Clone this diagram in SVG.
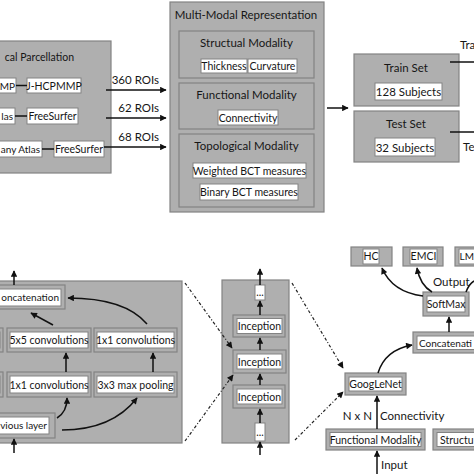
<svg xmlns="http://www.w3.org/2000/svg" width="474" height="474" viewBox="0 0 474 474">
<defs>
<marker id="ah" viewBox="0 0 10 10" refX="9" refY="5" markerWidth="8" markerHeight="6.5" markerUnits="userSpaceOnUse" orient="auto">
<path d="M0,0 L10,5 L0,10 z" fill="#111"/>
</marker>
<style>
.g{fill:#afafaf;stroke:#838383;stroke-width:1.2}
.w{fill:#fff;stroke:#838383;stroke-width:1}
.t{font-family:Lato,"Open Sans",sans-serif;fill:#161616;font-size:10.5px}
.tl{font-size:11.5px}
.p{font-size:10px}
.c{text-anchor:middle}
.e{text-anchor:end}
.a{stroke:#111;stroke-width:1.5;fill:none;marker-end:url(#ah)}
.l{stroke:#111;stroke-width:1.5;fill:none}
.d{stroke:#222;stroke-width:1.2;fill:none;stroke-dasharray:3,2,1,2;marker-end:url(#ah)}
</style>
</defs>
<rect width="474" height="474" fill="#fff"/>

<g id="anatomical">
<rect class="g" x="-10" y="41" width="121" height="132"/>
<text class="t e" x="74" y="61" font-size="11">cal Parcellation</text>
<rect class="w" x="-5" y="78" width="21" height="15"/><text class="t p e" x="15" y="89.5">MP</text>
<rect class="w" x="27" y="78" width="54" height="15"/><text class="t c" x="54" y="89.5">J-HCPMMP</text>
<rect class="w" x="-5" y="108" width="20" height="16"/><text class="t p e" x="13" y="120">las</text>
<rect class="w" x="-5" y="141" width="47" height="16"/><text class="t p e" x="40" y="153">any Atlas</text>
<rect class="w" x="27" y="108" width="51" height="16"/><text class="t c" x="52.5" y="120">FreeSurfer</text>
<rect class="w" x="54" y="141" width="50" height="16"/><text class="t c" x="79" y="153">FreeSurfer</text>
<line class="l" x1="16" y1="85.5" x2="27" y2="85.5"/>
<line class="l" x1="15" y1="116" x2="27" y2="116"/>
<line class="l" x1="42" y1="149" x2="54" y2="149"/>
</g>

<g id="multimodal">
<rect class="g" x="170" y="2" width="154" height="210"/>
<text class="t tl c" x="246" y="19">Multi-Modal Representation</text>
<rect class="g" x="179" y="31" width="135" height="47"/>
<text class="t tl c" x="246.5" y="47">Structual Modality</text>
<rect class="w" x="201" y="59" width="46" height="14"/><text class="t c" x="224" y="70">Thickness</text>
<rect class="w" x="248" y="59" width="49" height="14"/><text class="t c" x="272.5" y="70">Curvature</text>
<rect class="g" x="179" y="83" width="135" height="46"/>
<text class="t tl c" x="246.5" y="99">Functional Modality</text>
<rect class="w" x="218" y="110" width="60" height="15"/><text class="t c" x="248" y="121.5">Connectivity</text>
<rect class="g" x="179" y="134" width="135" height="73"/>
<text class="t tl c" x="246.5" y="150">Topological Modality</text>
<rect class="w" x="193" y="163" width="113" height="15"/><text class="t c" x="249.5" y="174.5">Weighted BCT measures</text>
<rect class="w" x="200" y="184" width="98" height="16"/><text class="t c" x="249" y="196">Binary BCT measures</text>
</g>

<g id="trainset">
<rect class="g" x="354" y="54" width="105" height="52"/>
<text class="t tl c" x="406" y="72">Train Set</text>
<rect class="w" x="375" y="83" width="67" height="17"/><text class="t tl c" x="408.5" y="96">128 Subjects</text>
</g>
<g id="testset">
<rect class="g" x="354" y="111" width="105" height="51"/>
<text class="t tl c" x="406" y="128">Test Set</text>
<rect class="w" x="375" y="138" width="60" height="18"/><text class="t tl c" x="405" y="151.5">32 Subjects</text>
</g>

<g id="inception-detail">
<rect class="g" x="-10" y="281" width="192" height="162"/>
<rect class="g" x="-10" y="285" width="75" height="24"/><rect class="w" x="-10" y="289" width="71" height="17"/>
<text class="t p e" x="59" y="301">oncatenation</text>
<rect class="g" x="-30" y="328" width="33" height="24"/><rect class="w" x="-30" y="332" width="30" height="16"/>
<rect class="g" x="7" y="328" width="84" height="24"/><rect class="w" x="10" y="332" width="78" height="16"/>
<text class="t c" x="49" y="344">5x5 convolutions</text>
<rect class="g" x="94" y="328" width="83" height="24"/><rect class="w" x="97" y="332" width="77" height="16"/>
<text class="t c" x="135.5" y="344">1x1 convolutions</text>
<rect class="g" x="-30" y="372" width="33" height="25"/><rect class="w" x="-30" y="376" width="30" height="17"/>
<rect class="g" x="7" y="372" width="84" height="25"/><rect class="w" x="10" y="376" width="78" height="17"/>
<text class="t c" x="49" y="389">1x1 convolutions</text>
<rect class="g" x="94" y="372" width="83" height="25"/><rect class="w" x="97" y="376" width="77" height="17"/>
<text class="t c" x="135.5" y="389">3x3 max pooling</text>
<rect class="g" x="-10" y="413" width="65" height="25"/><rect class="w" x="-10" y="417" width="59" height="17"/>
<text class="t p e" x="47" y="429">vious layer</text>
</g>

<g id="googlenet-stack">
<rect class="g" x="222" y="280" width="67" height="163"/>
<rect class="w" x="255" y="285" width="10" height="15"/><text class="t c" x="260" y="296">...</text>
<rect class="g" x="233" y="315" width="52" height="22"/><rect class="w" x="237" y="318.5" width="45" height="15"/>
<text class="t c" x="259.5" y="330">Inception</text>
<rect class="g" x="233" y="350" width="53" height="23"/><rect class="w" x="237" y="354" width="45" height="15"/>
<text class="t c" x="259.5" y="365.5">Inception</text>
<rect class="g" x="233" y="385" width="52" height="23"/><rect class="w" x="237" y="389" width="45" height="15"/>
<text class="t c" x="259.5" y="400.5">Inception</text>
<rect class="w" x="255" y="423" width="10" height="18"/><text class="t c" x="260" y="436">...</text>
</g>

<g id="googlenet">
<rect class="g" x="345" y="373" width="61" height="22"/><rect class="w" x="349" y="377" width="53" height="14"/>
<text class="t c" x="375.5" y="388">GoogLeNet</text>
</g>
<g id="functional">
<rect class="g" x="326" y="429" width="99" height="21"/><rect class="w" x="330" y="432.5" width="91" height="14"/>
<text class="t c" x="375.5" y="443.5">Functional Modality</text>
</g>
<g id="structural">
<rect class="g" x="433" y="429" width="50" height="21"/><rect class="w" x="437" y="432.5" width="46" height="14"/>
<text class="t" x="440" y="443.5">Structu</text>
</g>
<g id="concatenation">
<rect class="g" x="413" y="332" width="70" height="21"/><rect class="w" x="417" y="336" width="66" height="13.5"/>
<text class="t p" x="419" y="347">Concatenati</text>
</g>
<g id="softmax">
<rect class="g" x="423" y="292" width="46" height="24"/><rect class="w" x="427" y="296" width="38" height="16"/>
<text class="t c" x="446" y="308">SoftMax</text>
</g>
<g id="hc">
<rect class="g" x="351" y="247" width="41" height="19"/><rect class="w" x="363" y="249" width="16" height="15"/>
<text class="t c" x="371" y="260">HC</text>
</g>
<g id="emci">
<rect class="g" x="403" y="247" width="40" height="19"/><rect class="w" x="410" y="249" width="27" height="15"/>
<text class="t c" x="423.5" y="260">EMCI</text>
</g>
<g id="lm">
<rect class="g" x="455" y="247" width="30" height="19"/><rect class="w" x="459" y="249" width="26" height="15"/>
<text class="t p" x="459.5" y="260">LM</text>
</g>

<g id="connectors">
<line class="a" x1="106" y1="90" x2="166" y2="90"/>
<line class="a" x1="106" y1="118" x2="166" y2="118"/>
<line class="a" x1="104" y1="147" x2="166" y2="147"/>
<text class="t tl e" x="159" y="84">360 ROIs</text>
<text class="t tl e" x="159" y="112">62 ROIs</text>
<text class="t tl e" x="159" y="141">68 ROIs</text>
<line class="a" x1="327" y1="108" x2="348" y2="108"/>
<line class="l" x1="450" y1="62" x2="474" y2="62"/>
<text class="t tl" x="460" y="49">Tra</text>
<line class="l" x1="450" y1="132" x2="474" y2="132"/>
<text class="t tl" x="463" y="151">Te</text>

<line class="a" x1="14" y1="285" x2="14" y2="271"/>
<line class="a" x1="14" y1="453" x2="14" y2="439"/>
<line class="a" x1="53" y1="325" x2="31" y2="313"/>
<path class="a" d="M147,324 Q125,298 68,298"/>
<line class="a" x1="66" y1="372" x2="66" y2="353"/>
<line class="a" x1="153" y1="372" x2="153" y2="353"/>
<path class="a" d="M57,418 Q67,412 67,398"/>
<path class="a" d="M62,430 Q112,430 137,398"/>
<path class="d" d="M185,283 L232,348"/>
<path class="d" d="M185,441 L233,375"/>

<line class="a" x1="260" y1="285" x2="260" y2="269"/>
<line class="a" x1="260" y1="315" x2="260" y2="301"/>
<line class="a" x1="260" y1="350" x2="260" y2="338"/>
<line class="a" x1="260" y1="385" x2="260" y2="374"/>
<line class="a" x1="260" y1="423" x2="260" y2="409"/>
<line class="a" x1="260" y1="455" x2="260" y2="442"/>
<path class="d" d="M292,283 L343,368"/>
<path class="d" d="M295,440 L343,392"/>

<line class="a" x1="377" y1="429" x2="377" y2="396"/>
<text class="t tl e" x="372" y="420">N x N</text>
<text class="t tl" x="380" y="420">Connectivity</text>
<line class="a" x1="377" y1="474" x2="377" y2="451"/>
<text class="t tl" x="381" y="469">Input</text>
<path class="a" d="M378,373 Q385,350 412,345"/>
<line class="a" x1="449" y1="332" x2="449" y2="317"/>
<path class="a" d="M423,296 Q392,292 382,268"/>
<path class="a" d="M432,292 Q420,285 417,268"/>
<path class="l" d="M466,292 Q469,284 474,281"/>
<text class="t tl" x="433" y="286">Output</text>
</g>
</svg>
